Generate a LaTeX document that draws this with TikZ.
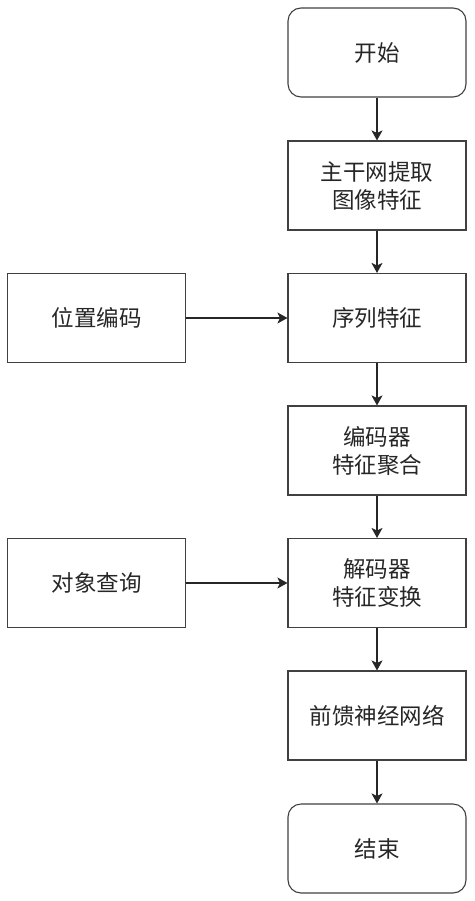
\documentclass[tikz,border=0pt]{standalone}
\usepackage{fontspec}
\setmainfont{Noto Sans CJK SC}
\usetikzlibrary{arrows.meta}
\begin{document}
\begin{tikzpicture}[x=1pt,y=-1pt,
  box/.style={draw=black!75, line width=1.1pt, minimum width=178pt, minimum height=89pt, inner sep=0pt, align=center, font=\fontsize{22.5}{28}\selectfont, text=black!85},
  term/.style={box, rounded corners=13pt},
  conn/.style={draw=black!85, line width=1.2pt, -{Stealth[length=10pt,width=11pt,inset=2.5pt]}}]
\useasboundingbox (0,0) rectangle (474,901);
\node[term] (start) at (377,52.5) {开始};
\node[box] (backbone) at (377,185.5) {主干网提取\\图像特征};
\node[box] (seq) at (377,318) {序列特征};
\node[box] (pos) at (96.5,318) {位置编码};
\node[box] (enc) at (377,450.5) {编码器\\特征聚合};
\node[box] (dec) at (377,583) {解码器\\特征变换};
\node[box] (query) at (96.5,583) {对象查询};
\node[box] (ffn) at (377,715.5) {前馈神经网络};
\node[term] (end) at (377,848.5) {结束};
\draw[conn] (start) -- (backbone);
\draw[conn] (backbone) -- (seq);
\draw[conn] (pos) -- (seq);
\draw[conn] (seq) -- (enc);
\draw[conn] (enc) -- (dec);
\draw[conn] (query) -- (dec);
\draw[conn] (dec) -- (ffn);
\draw[conn] (ffn) -- (end);
\end{tikzpicture}
\end{document}
